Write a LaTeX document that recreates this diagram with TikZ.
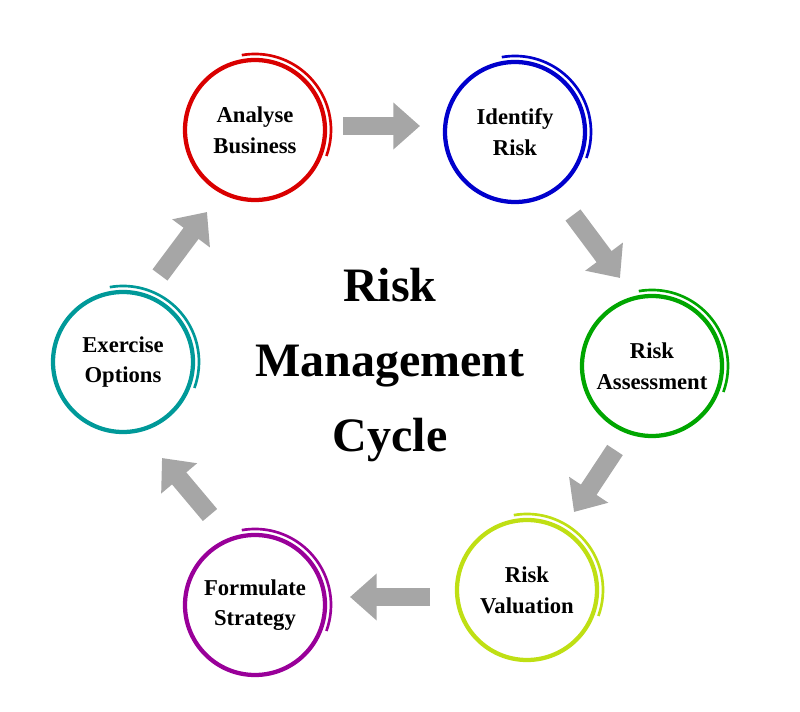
\documentclass[tikz,border=0pt]{standalone}
\usepackage{fontspec}
\setmainfont{Liberation Serif}
\usetikzlibrary{arrows.meta,calc}
\begin{document}
\begin{tikzpicture}[x=0.75pt,y=-0.75pt,
  ring/.style={draw=#1,line width=3.2pt,circle,minimum size=140*0.75pt,inner sep=0pt,
    font=\bfseries\fontsize{17}{23}\selectfont,align=center},
  flick/.style={draw=#1,line width=2pt},
  blk/.style={draw=gray!70,line width=14pt,-{Triangle[length=20pt,width=34pt]},shorten <=0pt}]
\useasboundingbox (0,0) rectangle (800,712);
\node[ring=red!85!black] (a) at (255,130) {Analyse\\Business};
\node[ring=blue!80!black] (b) at (515,132) {Identify\\Risk};
\node[ring=green!65!black] (c) at (652,366) {Risk\\Assessment};
\node[ring=yellow!75!green] (d) at (527,590) {Risk\\Valuation};
\node[ring=violet!80!magenta] (e) at (255,605) {Formulate\\Strategy};
\node[ring=teal!80!cyan] (f) at (123,362) {Exercise\\Options};
\foreach \n/\c in {a/red!85!black,b/blue!80!black,c/green!65!black,d/yellow!75!green,e/violet!80!magenta,f/teal!80!cyan}{
  \draw[flick=\c] ($(\n)+(100:57pt)$) arc[start angle=100,end angle=-20,radius=57pt];
}
\node[font=\bfseries\fontsize{36}{56}\selectfont,align=center] (t) at (390,365) {Risk\\Management\\Cycle};
\coordinate (a1) at (343,126); \coordinate (a2) at (420,126);
\coordinate (b1) at (573,215); \coordinate (b2) at (620,278);
\coordinate (c1) at (615,450); \coordinate (c2) at (574,512);
\coordinate (d1) at (430,597); \coordinate (d2) at (350,597);
\coordinate (e1) at (210,515); \coordinate (e2) at (162,458);
\coordinate (f1) at (160,275); \coordinate (f2) at (207,212);
\foreach \p in {a,b,c,d,e,f}{\draw[blk] (\p1) -- (\p2);}
\end{tikzpicture}
\end{document}
